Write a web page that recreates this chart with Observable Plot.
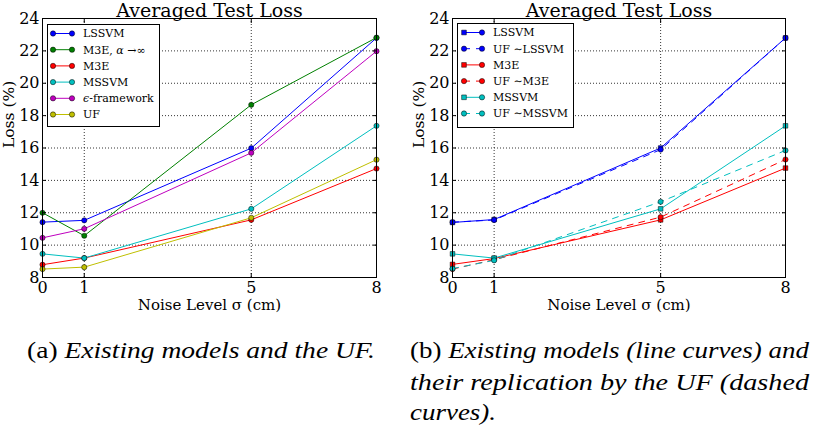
<!DOCTYPE html>
<html><head><meta charset="utf-8">
<script src="https://cdn.jsdelivr.net/npm/d3@7"></script>
<script src="https://cdn.jsdelivr.net/npm/@observablehq/plot@0.6"></script>
<style>
body{margin:0;background:#fff;}
#wrap{position:relative;width:813px;height:430px;overflow:hidden;}
.abs{position:absolute;}
.serif, .serif text{font-family:"DejaVu Serif","Bitstream Vera Serif","Liberation Serif","Times New Roman",Times,serif !important;}
.cap, .cap text{font-family:"Liberation Serif","Times New Roman",Times,"Nimbus Roman","DejaVu Serif",serif !important;}
</style></head><body>
<div id="wrap"></div>
<script>
// ---- data ----
const noise = [0, 1, 5, 8];
const xTicks = [0, 1, 5, 8];
const yTicks = [8, 10, 12, 14, 16, 18, 20, 22, 24];
const yDomain = [8, 24];
const xDomain = [0, 8];
// panel (a)
const lssvmA = [11.42, 11.53, 15.99, 22.8];
const m3eInfA = [12.0, 10.58, 18.67, 22.82];
const m3eA = [8.79, 9.2, 11.56, 14.73];
const mssvmA = [9.46, 9.2, 12.24, 17.37];
const epsA = [10.45, 11.01, 15.7, 21.98];
const ufA = [8.52, 8.64, 11.69, 15.28];
// panel (b)
const lssvmB = [11.4, 11.58, 16.0, 22.8];
const ufLssvmB = [11.42, 11.55, 15.9, 22.8];
const m3eB = [8.81, 9.17, 11.56, 14.76];
const ufM3eB = [8.52, 9.1, 11.73, 15.29];
const mssvmB = [9.46, 9.2, 12.24, 17.37];
const ufMssvmB = [8.55, 9.06, 12.68, 15.85];
// text
const titleText = "Averaged Test Loss";
const xLabel = "Noise Level σ (cm)";
const yLabel = "Loss (%)";

const C = {b:"#0000ff", g:"#008000", r:"#ff0000", c:"#00bfbf", m:"#bf00bf", y:"#bfbf00"};
const seriesA = [
  {name:[["LSSVM",0]], values:lssvmA, color:C.b, dash:null, symbol:"circle"},
  {name:[["M3E, ",0],["α",1],[" →∞",0]], values:m3eInfA, color:C.g, dash:null, symbol:"circle"},
  {name:[["M3E",0]], values:m3eA, color:C.r, dash:null, symbol:"circle"},
  {name:[["MSSVM",0]], values:mssvmA, color:C.c, dash:null, symbol:"circle"},
  {name:[["ϵ",1],["-framework",0]], values:epsA, color:C.m, dash:null, symbol:"circle"},
  {name:[["UF",0]], values:ufA, color:C.y, dash:null, symbol:"circle"}
];
const seriesB = [
  {name:[["LSSVM",0]], values:lssvmB, color:C.b, dash:null, symbol:"square"},
  {name:[["UF ∼LSSVM",0]], values:ufLssvmB, color:C.b, dash:"6,6", symbol:"circle"},
  {name:[["M3E",0]], values:m3eB, color:C.r, dash:null, symbol:"square"},
  {name:[["UF ∼M3E",0]], values:ufM3eB, color:C.r, dash:"6,6", symbol:"circle"},
  {name:[["MSSVM",0]], values:mssvmB, color:C.c, dash:null, symbol:"square"},
  {name:[["UF ∼MSSVM",0]], values:ufMssvmB, color:C.c, dash:"6,6", symbol:"circle"}
];

const wrap = document.getElementById("wrap");

function makePanel(series, {left, width, marginLeft, marginRight}) {
  const marks = [
    Plot.gridX(xTicks, {stroke:"black", strokeOpacity:1, strokeDasharray:"1,2", strokeWidth:0.8}),
    Plot.gridY(yTicks, {stroke:"black", strokeOpacity:1, strokeDasharray:"1,2", strokeWidth:0.8})
  ];
  series.forEach(s => {
    const rows = noise.map((x, i) => ({x, y: s.values[i]}));
    marks.push(Plot.line(rows, {x:"x", y:"y", stroke:s.color, strokeWidth:1, strokeDasharray:s.dash}));
    marks.push(Plot.dot(rows, {x:"x", y:"y", fill:s.color, stroke:"black", strokeWidth:0.5, r:2.6, symbol:s.symbol}));
  });
  marks.push(
    Plot.frame({stroke:"black", strokeWidth:1}),
    Plot.axisX({ticks:xTicks, tickSize:-4, tickPadding:8, fontSize:16, label:null}),
    Plot.axisX({anchor:"top", ticks:xTicks, tickSize:-4, tickFormat:()=>"", label:null}),
    Plot.axisY({ticks:yTicks, tickSize:-4, tickPadding:7, fontSize:16, label:null}),
    Plot.axisY({anchor:"right", ticks:yTicks, tickSize:-4, tickFormat:()=>"", label:null}),
    Plot.text([titleText], {text:d=>d, frameAnchor:"top", dy:-2, lineAnchor:"bottom", fontSize:19}),
    Plot.text([yLabel], {text:d=>d, frameAnchor:"left", rotate:-90, dx:-33, fontSize:15.5}),
    Plot.text([xLabel], {text:d=>d, frameAnchor:"bottom", dy:32, fontSize:15})
  );
  const svg = Plot.plot({
    width, height:320, marginLeft, marginRight, marginTop:18, marginBottom:43,
    x:{domain:xDomain}, y:{domain:yDomain},
    className:"serif",
    style:{background:"transparent", overflow:"visible", color:"black"},
    marks
  });
  svg.classList.add("serif");
  const div = document.createElement("div");
  div.className = "abs serif";
  div.style.left = left + "px"; div.style.top = "0px";
  div.appendChild(svg);
  wrap.appendChild(div);
}

function makeLegend(series, {left, top, w, h, lx1, lx2, tx, rightCircle}) {
  const svg = d3.create("svg").attr("width", w + 2).attr("height", h + 2)
    .attr("class","abs serif").style("left", (left - 0.5) + "px").style("top", (top - 0.5) + "px")
    .style("overflow","visible");
  svg.append("rect").attr("x",0.5).attr("y",0.5).attr("width",w).attr("height",h)
    .attr("fill","white").attr("stroke","black").attr("stroke-width",1);
  const sym = {circle:d3.symbolCircle, square:d3.symbolSquare};
  series.forEach((s, i) => {
    const y = 9.5 + i * 16.2;
    svg.append("line").attr("x1",lx1).attr("x2",lx2).attr("y1",y).attr("y2",y)
      .attr("stroke",s.color).attr("stroke-width",1).attr("stroke-dasharray",s.dash);
    [[lx1, s.symbol],[lx2, rightCircle ? "circle" : s.symbol]].forEach(([x, sy]) => {
      svg.append("path").attr("d", d3.symbol(sym[sy], 22)())
        .attr("transform",`translate(${x},${y})`).attr("fill",s.color)
        .attr("stroke","black").attr("stroke-width",0.5);
    });
    const t = svg.append("text").attr("x",tx).attr("y",y).attr("dy","0.35em")
      .attr("font-size",11);
    s.name.forEach(([str, it]) => t.append("tspan").attr("font-style", it ? "italic" : null).text(str));
  });
  wrap.appendChild(svg.node());
}

makePanel(seriesA, {left:0, width:406, marginLeft:42, marginRight:30});
makePanel(seriesB, {left:406, width:407, marginLeft:46, marginRight:28});
makeLegend(seriesA, {left:47, top:24, w:112, h:102, lx1:6, lx2:25, tx:36, rightCircle:false});
makeLegend(seriesB, {left:457, top:23, w:116, h:104, lx1:7, lx2:25, tx:36, rightCircle:true});

// captions
const capSvg = d3.create("svg").attr("width",813).attr("height",430).attr("class","abs cap")
  .style("left","0px").style("top","0px");
wrap.appendChild(capSvg.node());
function capLine(x, y, parts) {
  const t = capSvg.append("text").attr("x",x).attr("y",y)
    .attr("font-size",24).attr("fill","black");
  parts.forEach(([str, it]) => t.append("tspan").attr("font-style", it ? "italic" : null).text(str));
  return t;
}
const capA = capLine(27, 358, [["(a) ",0],["Existing models and the UF.",1]]);
const capB1 = capLine(410, 358, [["(b) ",0],["Existing models (line curves) and",1]]);
const capB2 = capLine(410, 390, [["their replication by the UF (dashed",1]]);
const capB3 = capLine(410, 420, [["curves).",1]]);
const nB1 = capB1.node().getComputedTextLength();
const scale = 399 / nB1;
const fit = (t, len) => t.attr("textLength", len).attr("lengthAdjust","spacingAndGlyphs");
fit(capA, 348); fit(capB1, 399); fit(capB2, 399);
fit(capB3, capB3.node().getComputedTextLength() * scale);
</script>
</body></html>
